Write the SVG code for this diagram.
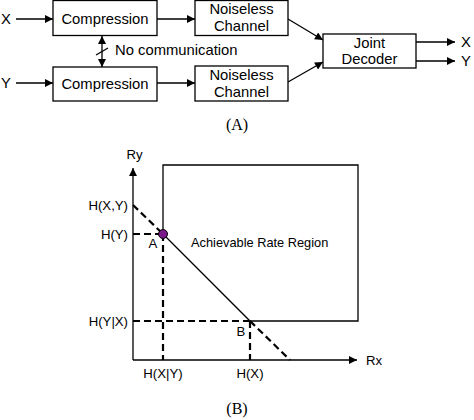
<svg xmlns="http://www.w3.org/2000/svg" width="474" height="420" viewBox="0 0 474 420">
<defs>
<marker id="ah" viewBox="0 0 10 10" refX="10" refY="5" markerWidth="11" markerHeight="8" markerUnits="userSpaceOnUse" orient="auto-start-reverse"><path d="M0,0 L10,5 L0,10 z" fill="#000"/></marker>
<style>
.box{fill:#fff;stroke:#000;stroke-width:1.3}
.t{font-family:"Liberation Sans",Arial,sans-serif;font-size:14.8px;fill:#000}
.l{font-family:"Liberation Sans",Arial,sans-serif;font-size:13.2px;fill:#000}
.cap{font-family:"Liberation Serif","Times New Roman",serif;font-size:16px;fill:#000}
.ln{stroke:#000;stroke-width:1.3;fill:none}
.ds{stroke:#000;stroke-width:2.2;fill:none;stroke-dasharray:7,4}
</style>
</defs>
<rect width="474" height="420" fill="#fff"/>
<g id="connectors">
<line class="ln" x1="16" y1="19" x2="53" y2="19" marker-end="url(#ah)"/>
<line class="ln" x1="16" y1="83" x2="53" y2="83" marker-end="url(#ah)"/>
<line class="ln" x1="157" y1="19" x2="195" y2="19" marker-end="url(#ah)"/>
<line class="ln" x1="157" y1="83" x2="195" y2="83" marker-end="url(#ah)"/>
<line class="ln" x1="288" y1="19" x2="323" y2="40" marker-end="url(#ah)"/>
<line class="ln" x1="288" y1="82" x2="323" y2="62" marker-end="url(#ah)"/>
<line class="ln" x1="416" y1="42" x2="455" y2="42" marker-end="url(#ah)"/>
<line class="ln" x1="416" y1="61" x2="455" y2="61" marker-end="url(#ah)"/>
<line class="ln" x1="102" y1="36" x2="102" y2="67" marker-start="url(#ah)" marker-end="url(#ah)"/>
<line class="ln" x1="96" y1="55" x2="108" y2="48"/>
</g>
<g id="input-x"><text class="t" x="1" y="24">X</text></g>
<g id="input-y"><text class="t" x="1" y="88">Y</text></g>
<g id="compression1"><rect class="box" x="53" y="0.5" width="104" height="35"/><text class="t" x="105" y="24" text-anchor="middle">Compression</text></g>
<g id="compression2"><rect class="box" x="53" y="67" width="104" height="34"/><text class="t" x="105" y="89" text-anchor="middle">Compression</text></g>
<g id="no-comm"><text class="t" x="115" y="55">No communication</text></g>
<g id="channel1"><rect class="box" x="195" y="0.5" width="93" height="35"/><text class="t" x="241.5" y="14" text-anchor="middle">Noiseless</text><text class="t" x="241.5" y="31" text-anchor="middle">Channel</text></g>
<g id="channel2"><rect class="box" x="195" y="66" width="93" height="35"/><text class="t" x="241.5" y="80" text-anchor="middle">Noiseless</text><text class="t" x="241.5" y="97" text-anchor="middle">Channel</text></g>
<g id="decoder"><rect class="box" x="323" y="34" width="93" height="34"/><text class="t" x="369.5" y="48" text-anchor="middle">Joint</text><text class="t" x="369.5" y="64" text-anchor="middle">Decoder</text></g>
<g id="out-x"><text class="t" x="461" y="47">X</text></g>
<g id="out-y"><text class="t" x="461" y="66">Y</text></g>
<text class="cap" x="237" y="130" text-anchor="middle">(A)</text>

<g id="plot">
<line class="ln" x1="133" y1="360" x2="133" y2="168" marker-end="url(#ah)"/>
<line class="ln" x1="133" y1="360" x2="357" y2="360" marker-end="url(#ah)"/>
<polyline class="ln" points="163,234 163,165 358,165 358,321 250,321 163,234"/>
<line class="ds" x1="133" y1="205" x2="163" y2="234"/>
<line class="ds" x1="250" y1="321" x2="290" y2="360"/>
<line class="ds" x1="133" y1="234" x2="163" y2="234"/>
<line class="ds" x1="163" y1="234" x2="163" y2="360"/>
<line class="ds" x1="133" y1="321" x2="250" y2="321"/>
<line class="ds" x1="250" y1="321" x2="250" y2="360"/>
<circle cx="163" cy="234" r="4.5" fill="#7a1a8a" stroke="#000" stroke-width="1"/>
<text class="l" x="134.5" y="159" text-anchor="middle">Ry</text>
<text class="l" x="366" y="365">Rx</text>
<text class="l" x="128" y="210" text-anchor="end">H(X,Y)</text>
<text class="l" x="128" y="239" text-anchor="end">H(Y)</text>
<text class="l" x="128" y="326" text-anchor="end">H(Y|X)</text>
<text class="l" x="153" y="248" text-anchor="middle">A</text>
<text class="l" x="241" y="336" text-anchor="middle">B</text>
<text class="l" x="163" y="378" text-anchor="middle">H(X|Y)</text>
<text class="l" x="250" y="378" text-anchor="middle">H(X)</text>
<text class="l" x="191" y="247" style="font-size:12.8px">Achievable Rate Region</text>
</g>
<text class="cap" x="237" y="414" text-anchor="middle">(B)</text>
</svg>
